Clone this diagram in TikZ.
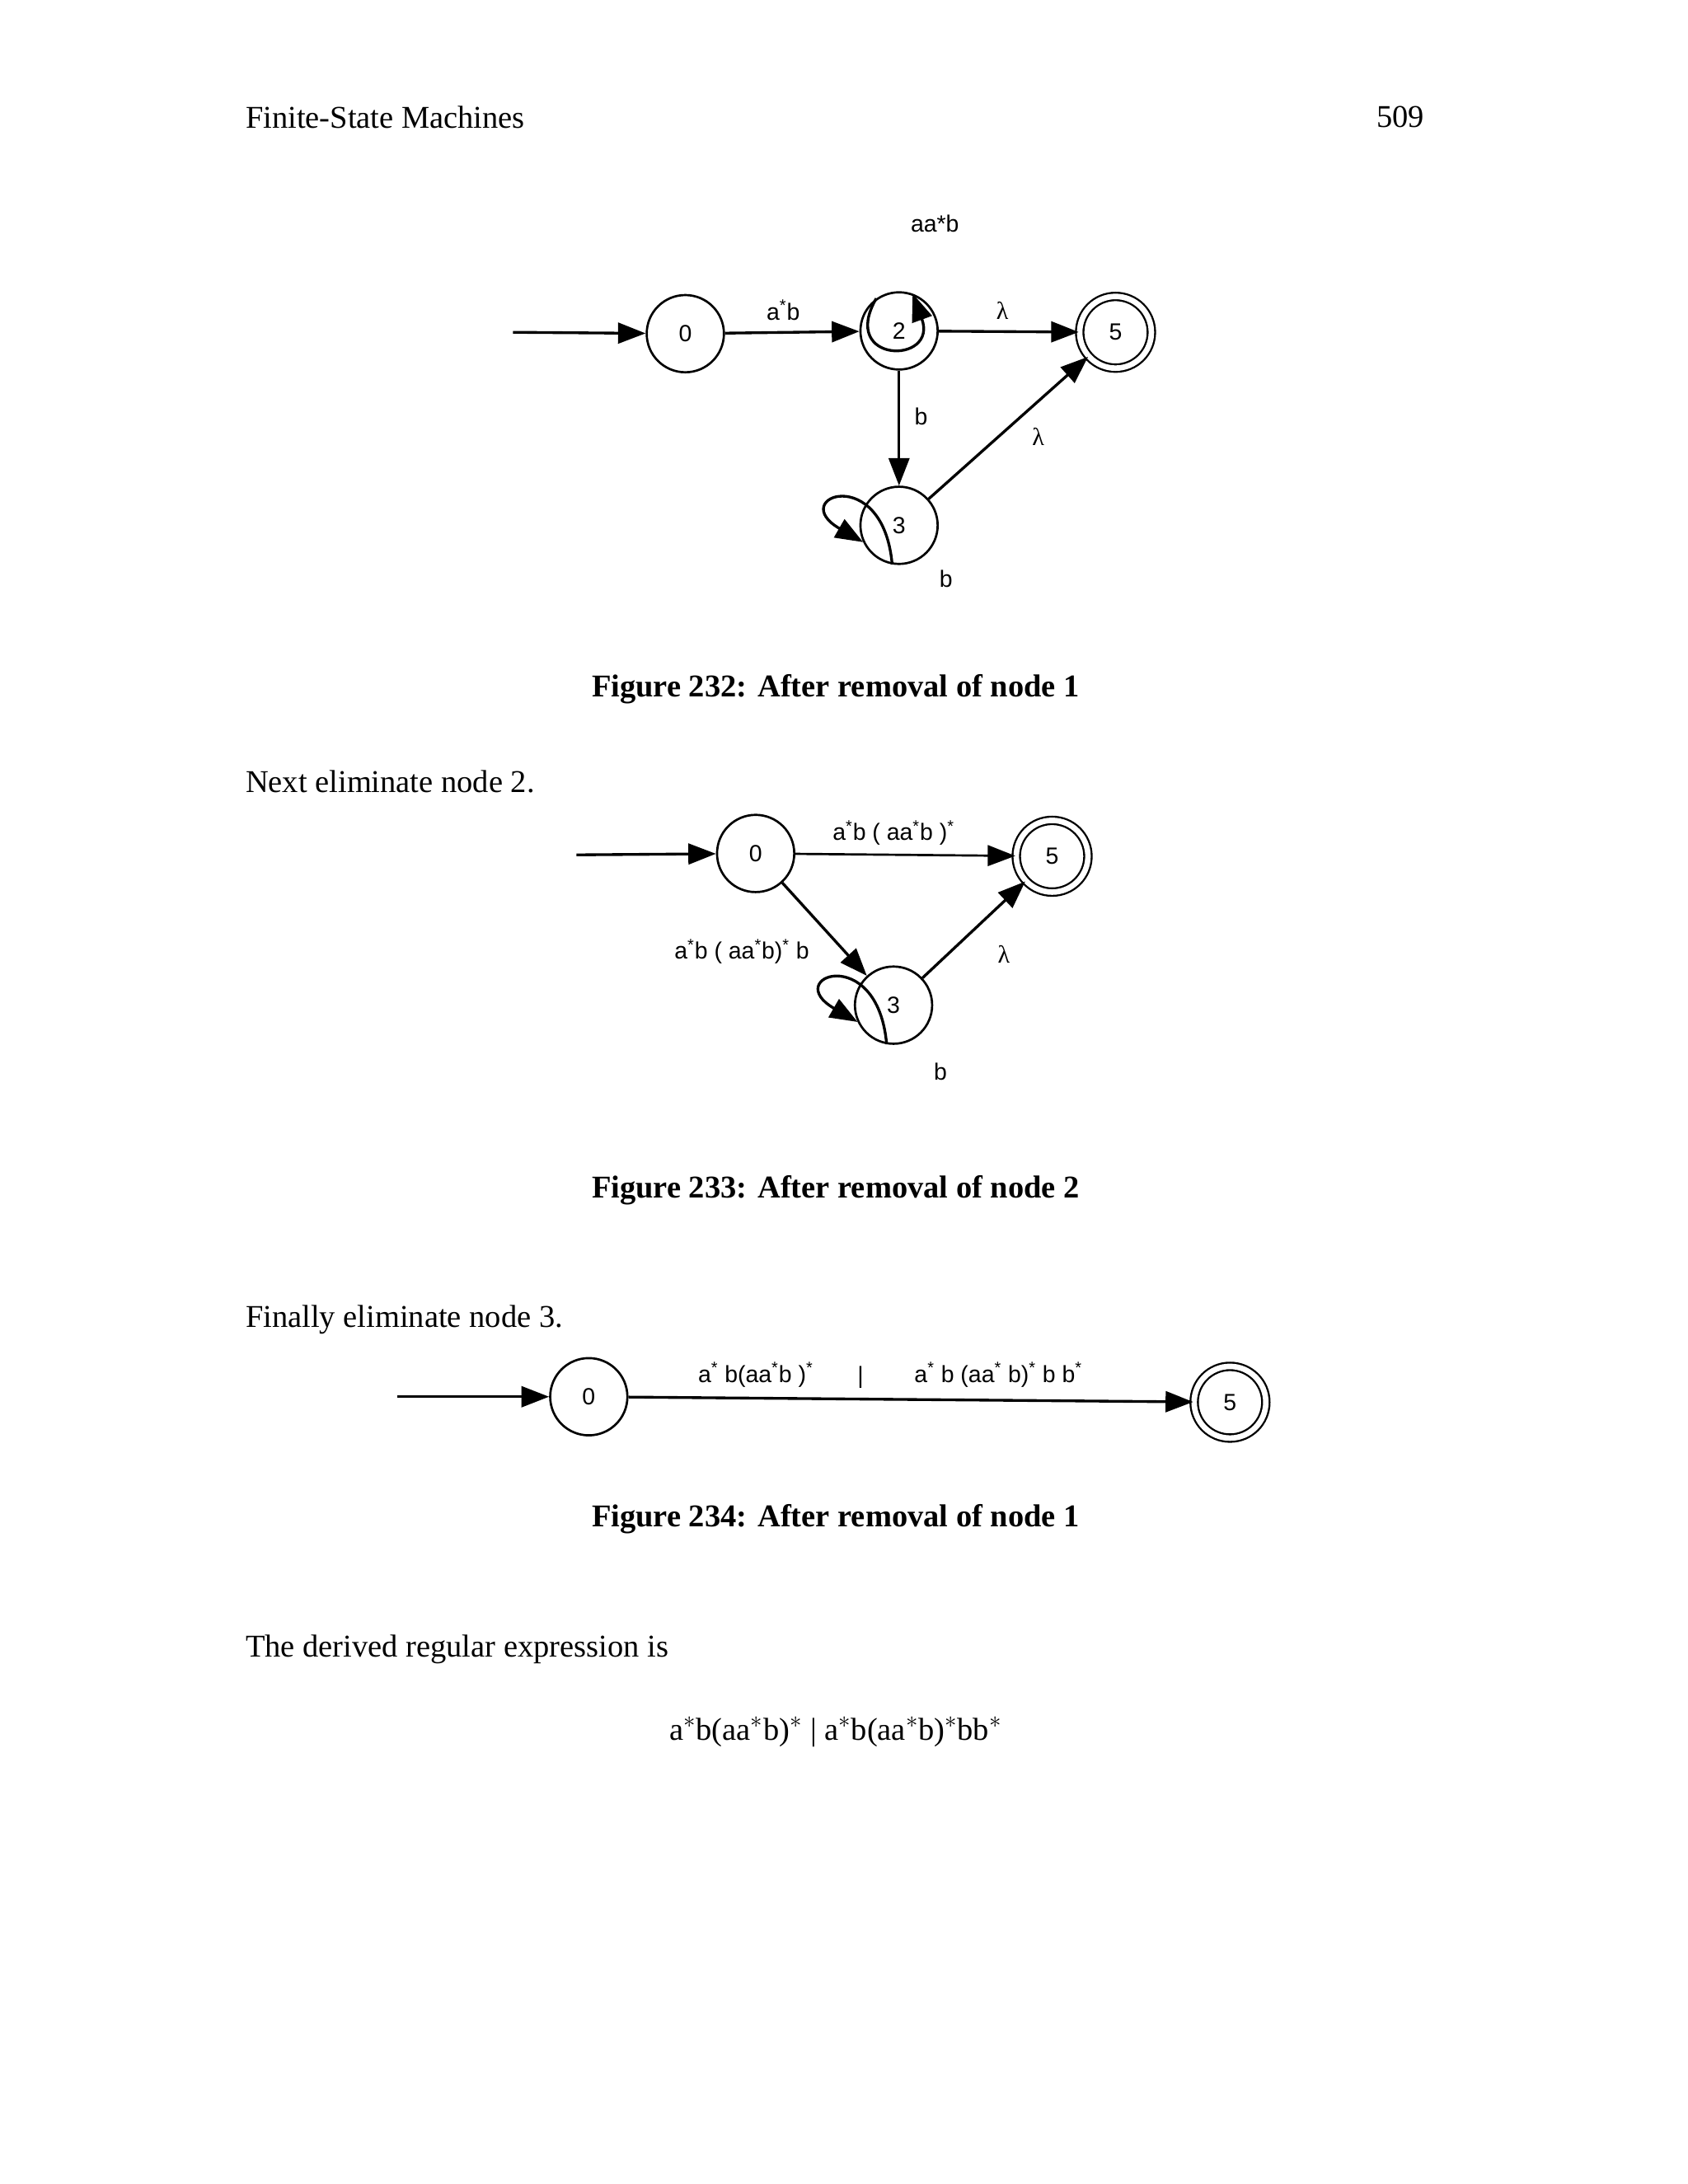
\documentclass[tikz,border=0pt]{standalone}
\usepackage{fontspec}
\setmainfont{Liberation Serif}
\newfontfamily\arial{Liberation Sans}
\usetikzlibrary{arrows.meta}
\begin{document}
\begin{tikzpicture}[x=1pt,y=-1pt,
  st/.style={circle,draw,line width=1.6pt,minimum size=56pt,inner sep=0pt,font=\arial\fontsize{17}{20}\selectfont},
  acc/.style={st,double=white,double distance=4pt,line width=1.4pt,minimum size=52pt},
  tr/.style={line width=2pt,-{Triangle[length=20pt,width=15pt]}},
  lab/.style={font=\arial\fontsize{17}{20}\selectfont,inner sep=0pt},
  lam/.style={font=\fontsize{18}{20}\selectfont,inner sep=0pt},
  body/.style={font=\fontsize{23}{26}\selectfont,inner sep=0pt},
  figcap/.style={font=\bfseries\fontsize{23}{26}\selectfont,inner sep=0pt}]
\useasboundingbox[fill=white] (0,0) rectangle (1224,1584);
\node[body,anchor=west] (h1) at (178,85) {Finite-State Machines};
\node[body,anchor=east] (h2) at (1033,85) {509};
% fig 232
\node[st] (a0) at (497,242) {0};
\node[st] (a2) at (652,240) {2};
\node[acc] (a5) at (809,241) {5};
\node[st] (a3) at (652,381) {3};
\coordinate (ai) at (372,241);
\draw[tr] (ai) -- (a0);
\draw[tr] (a0) -- (a2);
\draw[tr] (a2) -- (a5);
\draw[tr] (a2) -- (a3);
\draw[tr] (a3) -- (a5);
\draw[tr] (a2.125) .. controls +(120:55) and +(70:55) .. (a2.70);
\draw[tr] (a3.-100) .. controls +(-95:75) and +(210:65) .. (a3.205);
\node[lab] (l1) at (678,162) {aa*b};
\node[lab] (l2) at (568,225) {a\textsuperscript{*}b};
\node[lam] (l3) at (727,225) {λ};
\node[lab] (l4) at (668,302) {b};
\node[lam] (l5) at (753,317) {λ};
\node[lab] (l6) at (686,420) {b};
\node[figcap] (c1) at (606,500) {Figure 232: After removal of node 1};
\node[body,anchor=west] (t1) at (178,567) {Next eliminate node 2.};
% fig 233
\node[st] (b0) at (548,619) {0};
\node[acc] (b5) at (763,621) {5};
\node[st] (b3) at (648,729) {3};
\coordinate (bi) at (418,620);
\draw[tr] (bi) -- (b0);
\draw[tr,line width=1.6pt] (b0) -- (b5);
\draw[tr] (b0) -- (b3);
\draw[tr] (b3) -- (b5);
\draw[tr] (b3.-100) .. controls +(-95:75) and +(210:65) .. (b3.205);
\node[lab] (m1) at (648,604) {a\textsuperscript{*}b ( aa\textsuperscript{*}b )\textsuperscript{*}};
\node[lab] (m2) at (538,690) {a\textsuperscript{*}b ( aa\textsuperscript{*}b)\textsuperscript{*} b};
\node[lam] (m3) at (728,692) {λ};
\node[lab] (m4) at (682,777) {b};
\node[figcap] (c2) at (606,863) {Figure 233: After removal of node 2};
\node[body,anchor=west] (t2) at (178,957) {Finally eliminate node 3.};
% fig 234
\node[st] (d0) at (427,1013) {0};
\node[acc] (d5) at (892,1017) {5};
\coordinate (di) at (288,1013);
\draw[tr] (di) -- (d0);
\draw[tr] (d0) -- (d5);
\node[lab] (n1) at (548,997) {a\textsuperscript{*} b(aa\textsuperscript{*}b )\textsuperscript{*}};
\node[lab] (n2) at (624,999) {|};
\node[lab] (n3) at (724,997) {a\textsuperscript{*} b (aa\textsuperscript{*} b)\textsuperscript{*} b b\textsuperscript{*}};
\node[figcap] (c3) at (606,1102) {Figure 234: After removal of node 1};
\node[body,anchor=west] (t3) at (178,1196) {The derived regular expression is};
\node[body] (fx) at (606,1256) {a$^*$b(aa$^*$b)$^*$ | a$^*$b(aa$^*$b)$^*$bb$^*$};
\end{tikzpicture}
\end{document}
